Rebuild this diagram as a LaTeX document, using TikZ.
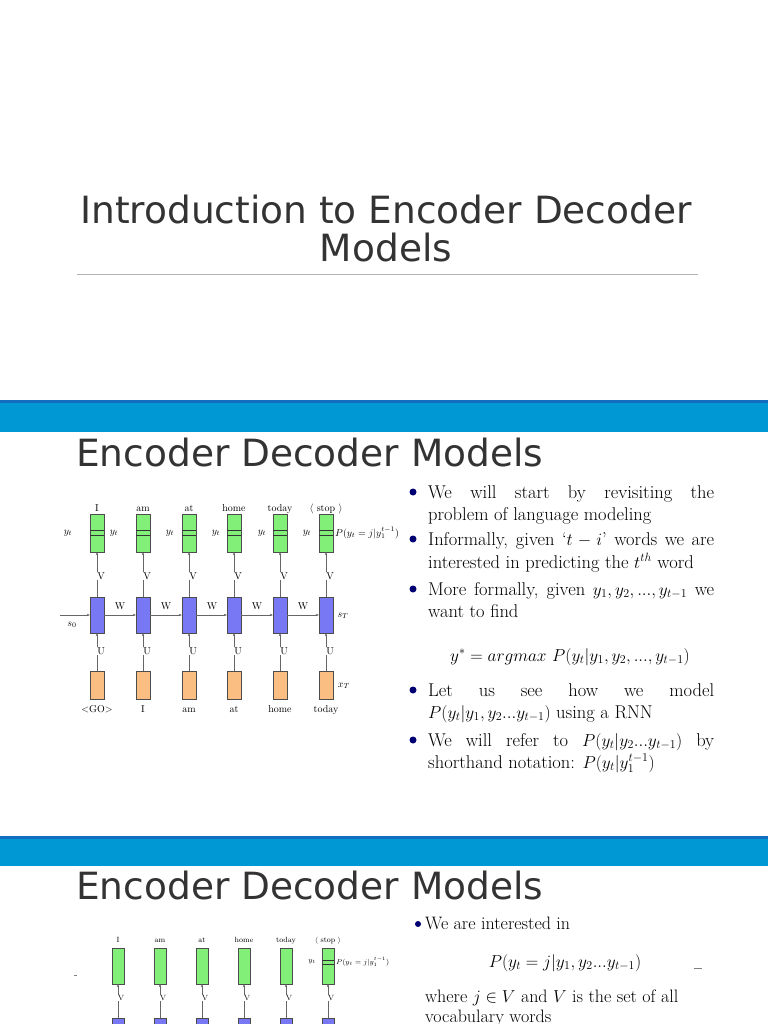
\documentclass[tikz,border=0pt]{standalone}
\usepackage{fontspec}
\newfontfamily\titlefont{DejaVu Sans}
\usetikzlibrary{arrows.meta}
\definecolor{band}{RGB}{0,152,212}
\definecolor{bandtop}{RGB}{20,110,190}
\definecolor{gbox}{RGB}{130,240,120}
\definecolor{bbox}{RGB}{120,120,245}
\definecolor{obox}{RGB}{250,190,130}
\definecolor{ttl}{RGB}{51,51,51}
\tikzset{
 gb/.style={draw=black!70,fill=gbox,minimum width=14pt,minimum height=38pt,inner sep=0pt},
 bb/.style={draw=black!70,fill=bbox,minimum width=14pt,minimum height=36pt,inner sep=0pt},
 ob/.style={draw=black!70,fill=obox,minimum width=14pt,minimum height=28pt,inner sep=0pt},
 arr/.style={draw=black!60,-{Stealth[length=3pt,width=2.5pt]}},
 lab/.style={font=\fontsize{10}{11}\selectfont,inner sep=0pt},
 slab/.style={font=\fontsize{7.5}{8}\selectfont,inner sep=0pt},
 body/.style={font=\fontsize{18.5}{20}\selectfont,anchor=base west,inner sep=0pt},
 bul/.style={circle,fill=blue!45!black,minimum size=7pt,inner sep=0pt},
 bigt/.style={font=\titlefont\fontsize{37.5}{42}\selectfont,text=ttl,inner sep=0pt}
}
\begin{document}
\begin{tikzpicture}[x=1pt,y=-1pt]
\useasboundingbox (0,0) rectangle (768,1024);
\fill[white] (0,0) rectangle (768,1024);
% slide 1
\node[bigt,anchor=base] (t1) at (386,223) {Introduction to Encoder Decoder};
\node[bigt,anchor=base] (t2) at (386,261) {Models};
\draw[black!30,line width=0.7pt] (77,274) -- (698,274);
% band 1
\fill[band] (0,400) rectangle (768,432);
\fill[bandtop] (0,400) rectangle (768,403);
\node[bigt,anchor=base west] (t3) at (76,466) {Encoder Decoder Models};
% diagram 1
\foreach \i/\x/\top/\bot in {1/97/I/{$<$GO$>$},2/143/am/I,3/189/at/am,4/234/home/at,5/280/today/home,6/326/{$\langle$ stop $\rangle$}/today}{
 \node[gb] (g\i) at (\x,533) {};
 \draw[black!80] (\x-7,530) -- (\x+7,530) (\x-7,535) -- (\x+7,535);
 \node[bb] (b\i) at (\x,615) {};
 \node[ob] (o\i) at (\x,685) {};
 \node[lab,anchor=base] (tl\i) at (\x,511) {\top};
 \node[lab,anchor=base] (bl\i) at (\x,712) {\bot};
 \draw[arr] (o\i) -- (b\i);
 \draw[arr] (b\i) -- (g\i);
 \node[lab,fill=white,inner sep=0.5pt] (vl\i) at (\x+4,576) {V};
 \node[lab,fill=white,inner sep=0.5pt] (ul\i) at (\x+4,651) {U};
}
\foreach \i/\j/\xm in {1/2/120,2/3/166,3/4/212,4/5/257,5/6/303}{
 \draw[arr] (b\i) -- (b\j);
 \node[lab] (wl\i) at (\xm,606) {W};
}
\foreach \x in {68,114,170,216,262,307}{\node[lab] at (\x,533) {$y_t$};}
\coordinate (s0in) at (60,615);
\draw[arr] (s0in) -- (b1);
\node[lab] (s0) at (72,625) {$s_0$};
\node[lab] (sT) at (343,616) {$s_T$};
\node[lab] (xT) at (344,686) {$x_T$};
\node[lab,anchor=west] (pl) at (335,533) {$P(y_t=j|y_1^{t-1})$};
% text 1
\foreach \y in {493,540,590,691,741}{\node[bul] at (413,\y-1) {};}
\node[body] at (428,498) {\makebox[286pt][s]{We will start by revisiting the}};
\node[body] at (428,520) {problem of language modeling};
\node[body] at (428,545) {\makebox[286pt][s]{Informally, given `$t-i$' words we are}};
\node[body] at (428,568) {interested in predicting the $t^{th}$ word};
\node[body] at (428,595) {\makebox[286pt][s]{More formally, given $y_1,y_2,...,y_{t-1}$ we}};
\node[body] at (428,617) {want to find};
\node[body,anchor=base] at (570,661) {$y^*=argmax\ P(y_t|y_1,y_2,...,y_{t-1})$};
\node[body] at (428,696) {\makebox[286pt][s]{Let us see how we model}};
\node[body] at (428,718) {$P(y_t|y_1,y_2...y_{t-1})$ using a RNN};
\node[body] at (428,746) {\makebox[286pt][s]{We will refer to $P(y_t|y_2...y_{t-1})$ by}};
\node[body] at (428,768) {shorthand notation: $P(y_t|y_1^{t-1})$};
% band 2
\fill[band] (0,836) rectangle (768,866);
\fill[bandtop] (0,836) rectangle (768,839);
\node[bigt,anchor=base west] (t4) at (76,899) {Encoder Decoder Models};
% diagram 2
\foreach \i/\x/\top in {1/118/I,2/160/am,3/202/at,4/244/home,5/286/today,6/328/{$\langle$ stop $\rangle$}}{
 \node[gb,minimum width=12pt,minimum height=36pt] (h\i) at (\x,966) {};
 \node[bb,minimum width=12pt,minimum height=20pt] (c\i) at (\x,1028) {};
 \node[slab,anchor=base] (ht\i) at (\x,942) {\top};
 \draw[arr] (c\i) -- (h\i);
 \node[slab,fill=white,inner sep=0.5pt] (hv\i) at (\x+3,998) {V};
}
\draw[black!80] (322,960) -- (334,960) (322,964) -- (334,964);
\node[slab] (yt2) at (312,962) {$y_t$};
\node[slab,anchor=west] (pl2) at (336,962) {$P(y_t=j|y_1^{t-1})$};
\node[bul,minimum size=6pt] at (418,924) {};
\node[body,font=\fontsize{18}{20}\selectfont] at (425,929) {We are interested in};
\node[body,anchor=base,font=\fontsize{18}{20}\selectfont] at (565,967) {$P(y_t=j|y_1,y_2...y_{t-1})$};
\node[body,font=\fontsize{18}{20}\selectfont] at (425,1002) {where $j\in V$ and $V$ is the set of all};
\node[body,font=\fontsize{18}{20}\selectfont] at (425,1022) {vocabulary words};
\draw[black!50] (74,975) -- (77,975);
\draw[black!50] (694,968) -- (702,968);
\end{tikzpicture}
\end{document}
